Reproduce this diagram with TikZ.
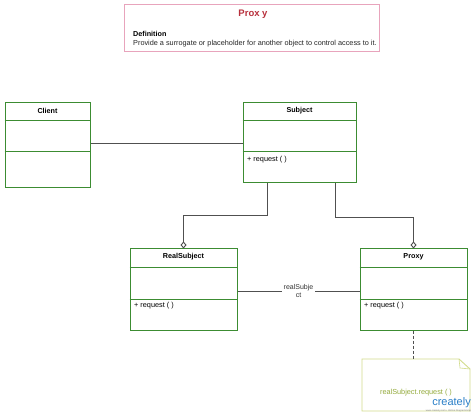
\documentclass[tikz,border=0pt]{standalone}
\usepackage{fontspec}
\setmainfont{Liberation Sans}
\usetikzlibrary{arrows.meta}
\definecolor{umlgreen}{HTML}{3C8C32}
\definecolor{linegray}{HTML}{505050}
\definecolor{titlepink}{HTML}{E8A4BC}
\definecolor{titlered}{HTML}{B8303C}
\definecolor{noteline}{HTML}{D2DC8C}
\definecolor{notetext}{HTML}{94AA3C}
\definecolor{crblue}{HTML}{2A7FC8}
\tikzset{
  cls/.style={draw=umlgreen, line width=1pt, rectangle, inner sep=0pt},
  clsname/.style={font=\fontsize{7.2}{8}\selectfont\bfseries, text=black},
  member/.style={font=\fontsize{7.3}{8}\selectfont, anchor=west, inner sep=0pt},
  conn/.style={draw=linegray, line width=1pt},
  agg/.style={conn, -{Diamond[open, length=7pt, width=6pt, line width=0.9pt]}},
}
\begin{document}
\begin{tikzpicture}[x=1pt,y=-1pt]
\useasboundingbox (0,0) rectangle (474,414);
\fill[white] (0,0) rectangle (474,414);

% title box
\node[draw=titlepink, line width=0.9pt, minimum width=255pt, minimum height=47pt, inner sep=0pt] (title) at (252,28) {};
\node[font=\fontsize{9.5}{10}\selectfont\bfseries, text=titlered] (ttl) at (253,14) {Prox y};
\node[font=\fontsize{7.2}{8}\selectfont\bfseries, anchor=west, inner sep=0pt] (defh) at (133,34) {Definition};
\node[font=\fontsize{7.3}{8}\selectfont, anchor=west, inner sep=0pt, text=black!85] (deft) at (133,44) {Provide a surrogate or placeholder for another object to control access to it.};

% classes
\node[cls, minimum width=85pt, minimum height=85pt] (client) at (47.5,145.5) {};
\node[cls, minimum width=113pt, minimum height=80pt] (subject) at (299.5,143) {};
\node[cls, minimum width=107pt, minimum height=81pt] (real) at (183.5,289.5) {};
\node[cls, minimum width=107pt, minimum height=81pt] (proxy) at (413.5,289.5) {};

% compartments
\draw[umlgreen, line width=1pt] (client.west |- 0,121) -- (client.east |- 0,121)
  (client.west |- 0,152) -- (client.east |- 0,152);
\draw[umlgreen, line width=1pt] (subject.west |- 0,121) -- (subject.east |- 0,121)
  (subject.west |- 0,152) -- (subject.east |- 0,152);
\draw[umlgreen, line width=1pt] (real.west |- 0,268) -- (real.east |- 0,268)
  (real.west |- 0,299) -- (real.east |- 0,299);
\draw[umlgreen, line width=1pt] (proxy.west |- 0,268) -- (proxy.east |- 0,268)
  (proxy.west |- 0,299) -- (proxy.east |- 0,299);

\node[clsname] (clientn) at (47.5,111) {Client};
\node[clsname] (subjectn) at (299.5,111) {Subject};
\node[clsname] (realn) at (183.5,257) {RealSubject};
\node[clsname] (proxyn) at (413.5,257) {Proxy};

\node[member] (sreq) at (247,160) {+ request ( )};
\node[member] (rreq) at (134,306) {+ request ( )};
\node[member] (preq) at (364,306) {+ request ( )};

% connectors
\coordinate (cs) at (client.east |- 0,144);
\draw[conn] (cs) -- (subject.west |- cs);
\draw[agg] (subject.south -| 267,0) |- (183.5,216) -- (real.north);
\draw[agg] (subject.south -| 335,0) |- (413.5,218) -- (proxy.north);
\draw[conn] (real.east |- 0,291) -- node[fill=white, font=\fontsize{7}{8}\selectfont, align=center, inner sep=1.5pt, text=black!80] (rlabel) {realSubje\\ct} (proxy.west |- 0,291);

% note
\coordinate (notetop) at (413.5,359);
\draw[noteline, line width=0.9pt] (362,359) -- (459,359) -- (470,369) -- (470,411) -- (362,411) -- cycle;
\draw[noteline, line width=0.6pt] (459,359) -- (460,368) -- (470,369);
\draw[linegray, line width=1pt, dash pattern=on 3pt off 2pt] (proxy.south) -- (notetop);
\node[font=\fontsize{7.3}{8}\selectfont, text=notetext] (notet) at (416,393) {realSubject.request ( )};

% watermark
\node[font=\fontsize{11}{12}\selectfont, text=crblue, anchor=east, inner sep=0pt] (logo) at (471,403) {creately};
\node[font=\fontsize{2.5}{3}\selectfont, text=black!45, anchor=east, inner sep=0pt] (logot) at (471,410.5) {www.creately.com • Online Diagramming};
\end{tikzpicture}
\end{document}
